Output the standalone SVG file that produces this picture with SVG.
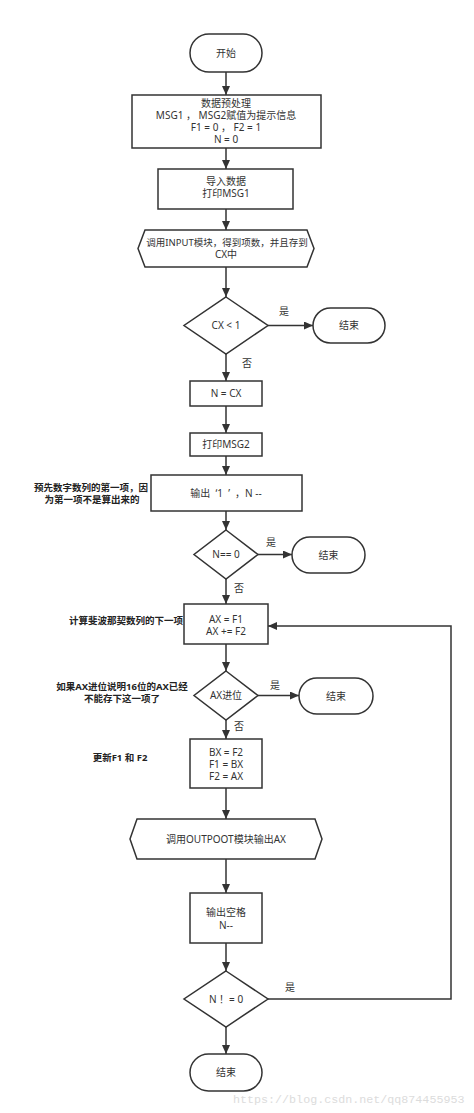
<svg xmlns="http://www.w3.org/2000/svg" width="474" height="1113" viewBox="0 0 474 1113">
<defs>
<marker id="ah" markerUnits="userSpaceOnUse" markerWidth="10" markerHeight="10" refX="9" refY="4" orient="auto">
<path d="M0,0 L9,4 L0,8 Z" fill="#333"/>
</marker>
<style>
.n{fill:#fff;stroke:#333;stroke-width:1.5}
.t{font-family:"Noto Sans","Noto Sans CJK SC",sans-serif;font-size:10px;fill:#333;text-anchor:middle}
.a{font-family:"Noto Sans","Noto Sans CJK SC",sans-serif;font-size:9.5px;font-weight:bold;fill:#222;text-anchor:middle}
.c{fill:none;stroke:#333;stroke-width:1.5;marker-end:url(#ah)}
.l{font-family:"Noto Sans CJK SC",sans-serif;font-size:10px;fill:#333;text-anchor:middle}
</style>
</defs>
<rect width="474" height="1113" fill="#fff"/>
<g id="start"><rect class="n" x="190" y="34" width="72" height="38" rx="19"/><text class="t" x="226" y="56.5">开始</text></g>
<g id="init"><rect class="n" x="132" y="95" width="189" height="53"/>
<text class="t" x="226" y="107">数据预处理</text>
<text class="t" x="226" y="119">MSG1 ， MSG2赋值为提示信息</text>
<text class="t" x="226" y="131">F1 = 0 ， F2 = 1</text>
<text class="t" x="226" y="143">N = 0</text></g>
<g id="import"><rect class="n" x="158" y="169" width="135" height="40"/>
<text class="t" x="226" y="185">导入数据</text>
<text class="t" x="226" y="197">打印MSG1</text></g>
<g id="input"><path class="n" d="M145,230 L307,230 L314,248.5 L307,267 L145,267 L138,248.5 Z"/>
<text class="t" x="227" y="246" style="font-size:9.5px">调用INPUT模块，得到项数，并且存到</text>
<text class="t" x="226" y="258">CX中</text></g>
<g id="d1"><path class="n" d="M226,297 L268,325.5 L226,354 L184,325.5 Z"/><text class="t" x="226" y="329">CX &lt; 1</text></g>
<g id="end1"><rect class="n" x="313" y="308" width="72" height="35" rx="17.5"/><text class="t" x="349" y="329">结束</text></g>
<g id="ncx"><rect class="n" x="190" y="381" width="72" height="25"/><text class="t" x="226" y="397">N = CX</text></g>
<g id="msg2"><rect class="n" x="190" y="433" width="72" height="23"/><text class="t" x="226" y="448">打印MSG2</text></g>
<g id="out1"><rect class="n" x="151" y="475" width="151" height="36"/><text class="t" x="226" y="497" xml:space="preserve">输出  ‘1  ’  ，N --</text></g>
<g id="note1"><text class="a" x="91" y="491">预先数字数列的第一项，因</text><text class="a" x="92" y="503">为第一项不是算出来的</text></g>
<g id="d2"><path class="n" d="M226,530 L258,554.5 L226,579 L194,554.5 Z"/><text class="t" x="226" y="558">N== 0</text></g>
<g id="end2"><rect class="n" x="292" y="537" width="73" height="36" rx="18"/><text class="t" x="328.5" y="558.5">结束</text></g>
<g id="ax"><rect class="n" x="184" y="604" width="84" height="40"/>
<text class="t" x="226" y="623">AX = F1</text>
<text class="t" x="226" y="635">AX += F2</text></g>
<g id="note2"><text class="a" x="126" y="624">计算斐波那契数列的下一项</text></g>
<g id="d3"><path class="n" d="M226,671 L258,695.5 L226,720 L194,695.5 Z"/><text class="t" x="226" y="699">AX进位</text></g>
<g id="end3"><rect class="n" x="299" y="678" width="74" height="36" rx="18"/><text class="t" x="336" y="699.5">结束</text></g>
<g id="note3"><text class="a" x="122" y="690">如果AX进位说明16位的AX已经</text><text class="a" x="122" y="702">不能存下这一项了</text></g>
<g id="upd"><rect class="n" x="190" y="739" width="72" height="49"/>
<text class="t" x="226" y="756">BX = F2</text>
<text class="t" x="226" y="768">F1 = BX</text>
<text class="t" x="226" y="780">F2 = AX</text></g>
<g id="note4"><text class="a" x="120" y="761">更新F1 和 F2</text></g>
<g id="output"><path class="n" d="M137,819 L315,819 L322,839 L315,859 L137,859 L130,839 Z"/><text class="t" x="226" y="843">调用OUTPOOT模块输出AX</text></g>
<g id="space"><rect class="n" x="190" y="893" width="72" height="50"/>
<text class="t" x="226" y="916">输出空格</text>
<text class="t" x="226" y="929">N--</text></g>
<g id="d4"><path class="n" d="M226,971 L268,999 L226,1027 L184,999 Z"/><text class="t" x="226" y="1002.5">N ！= 0</text></g>
<g id="end4"><rect class="n" x="190" y="1054" width="72" height="37" rx="18.5"/><text class="t" x="226" y="1076">结束</text></g>
<g id="connectors">
<path class="c" d="M226,72 V95"/>
<path class="c" d="M226,148 V169"/>
<path class="c" d="M226,209 V230"/>
<path class="c" d="M226,267 V297"/>
<path class="c" d="M268,325.5 H313"/>
<path class="c" d="M226,354 V381"/>
<path class="c" d="M226,406 V433"/>
<path class="c" d="M226,456 V475"/>
<path class="c" d="M226,511 V530"/>
<path class="c" d="M258,554.5 H292"/>
<path class="c" d="M226,579 V604"/>
<path class="c" d="M226,644 V671"/>
<path class="c" d="M258,695.5 H299"/>
<path class="c" d="M226,720 V739"/>
<path class="c" d="M226,788 V819"/>
<path class="c" d="M226,859 V893"/>
<path class="c" d="M226,943 V971"/>
<path class="c" d="M268,999 H451 V626 H268"/>
<path class="c" d="M226,1027 V1054"/>
<text class="l" x="284" y="315">是</text>
<text class="l" x="247" y="367">否</text>
<text class="l" x="271" y="546">是</text>
<text class="l" x="239" y="592">否</text>
<text class="l" x="275" y="689">是</text>
<text class="l" x="239" y="730">否</text>
<text class="l" x="290" y="991">是</text>
</g>
<text x="233" y="1103" font-family="Liberation Mono, monospace" font-size="11.7" fill="#dcdcdc">https://blog.csdn.net/qq874455953</text>
</svg>
